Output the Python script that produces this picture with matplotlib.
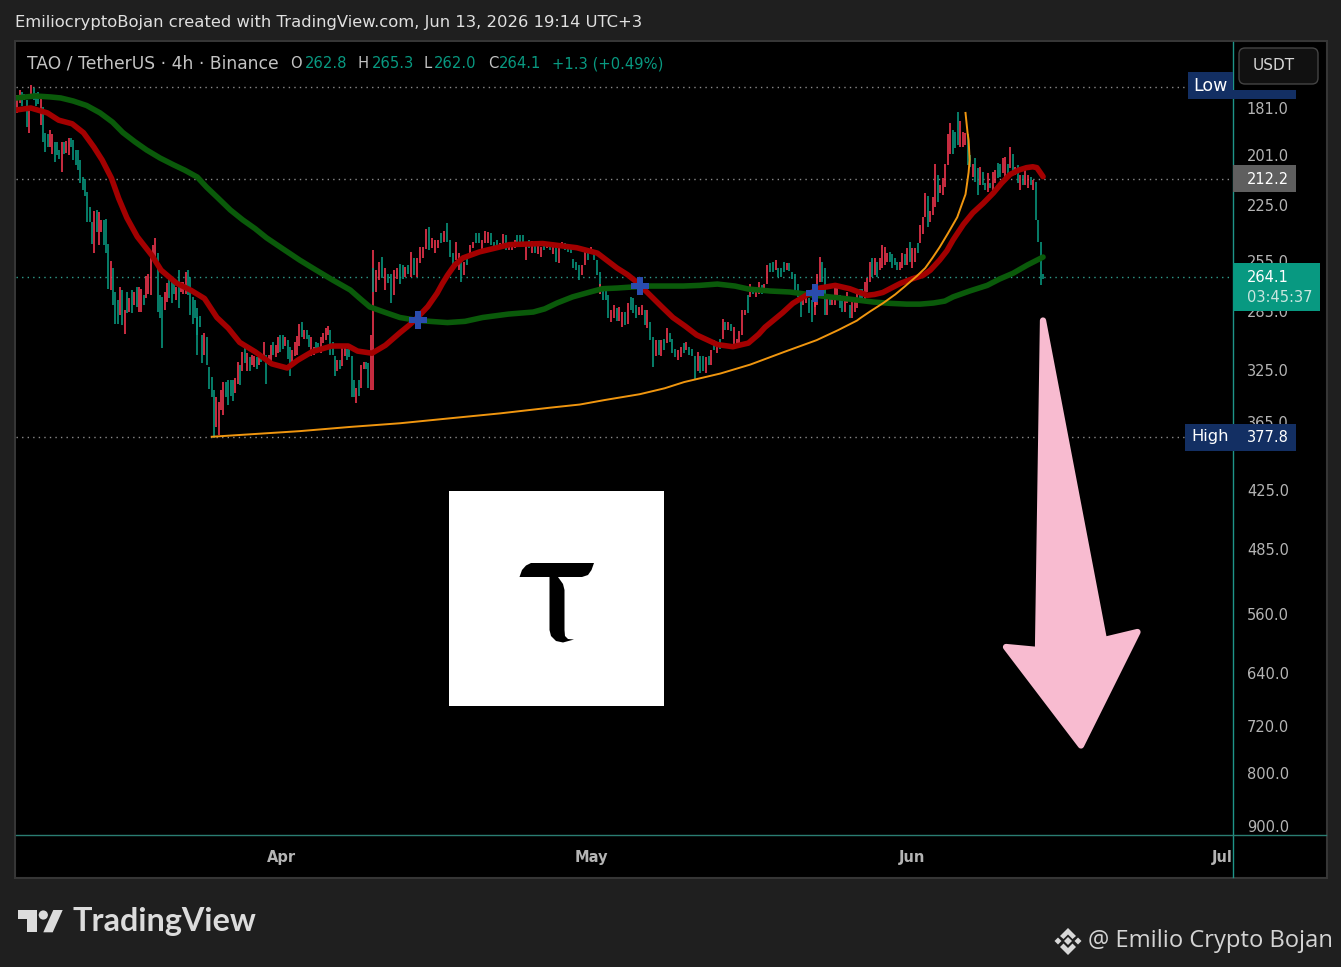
import numpy as np
import matplotlib
matplotlib.use("Agg")
import matplotlib.pyplot as plt
from matplotlib.patches import Rectangle, FancyBboxPatch, Polygon, Circle

# time axis is in days since Apr 1
month_days = [0, 30, 61, 91]
month_labels = ["Apr", "May", "Jun", "Jul"]
price_ticks = [181, 201, 225, 255, 285, 325, 365, 425, 485, 560, 640, 720, 800, 900]

low_price = 172.7
high_price = 377.8
prev_price = 212.2
last_price = 264.1

# candles, one block per stretch of the chart
span_a = (-25.5, -8.1)
lows_a = [176, 174, 174.8, 175.6, 178, 180, 172, 173, 175, 174.5, 177, 180.5, 191.5, 192, 190, 192, 195.5, 195.5, 199, 195.5,
          195.5, 195, 193.5, 193.5, 194.5, 199, 199, 203.5, 211, 212, 218.5, 226, 233.5, 228, 227.5, 228.5, 232.5, 232.5, 232, 245.5,
          255, 259, 273, 278, 270, 272, 284, 273, 276.5, 272, 273, 270, 270, 271, 275, 263.5, 262, 251, 246, 242,
          250, 275, 276, 273, 267.5, 263, 267, 267, 270, 260, 267, 267, 261, 260, 264, 276, 278, 289]
highs_a = [183, 179, 180, 178, 189, 191.5, 177, 178, 180, 179.5, 188, 195.5, 199.5, 197.5, 197.5, 200.5, 204, 201, 203, 209,
           200.5, 200, 201, 197.5, 203.5, 205.5, 208, 214, 217.5, 220.5, 233.5, 233.5, 245, 250, 239, 246, 239, 246, 250, 271,
           271.5, 281, 293.5, 293, 287.5, 294, 300, 286, 285.5, 286, 281, 282.5, 285.5, 285.5, 281, 276.5, 274, 275, 252, 253,
           285.5, 289.5, 309.5, 284, 279, 276.5, 279.5, 274, 278, 283, 273, 274, 274, 275, 287.5, 293, 289.5, 300.5]
dirs_a = "rrtttrrttt" "rtttrrtttr" "trrttttttt" "tttrtrrttt" "rtttrtrtrt" "rtrrtrrrrr" "tttrrtttrt" "rrrttttt"

span_b = (-8.1, 8.9)
lows_b = [283, 288, 300.5, 299, 302, 323, 330, 340, 345, 349, 340, 334, 334, 332, 332, 332, 331, 319, 321, 312,
          309, 313, 316, 314, 315, 316, 312, 314, 305, 314, 314, 307, 305, 307, 302, 300.5, 300.5, 302, 304, 309,
          311, 305, 301, 293, 292, 297, 297, 300.5, 302, 309, 305, 306, 302, 299, 296, 294.5, 297, 305, 315, 318,
          318, 309, 308, 310, 307, 315, 332, 338, 332, 321, 319, 319, 320, 300.5, 248.5]
highs_b = [314, 295, 320, 314, 321, 339, 345, 378, 369, 376, 355, 359, 345, 351, 344, 348, 342, 335, 336, 326,
           320, 326, 326, 321, 323, 324, 321, 319, 318, 335, 321, 321, 314, 316, 313, 312, 310, 308, 317, 329,
           320, 315, 314, 308, 302, 303, 303, 309, 315, 314, 313, 312, 313, 306, 304, 300.5, 314, 314, 329, 326,
           324, 322, 315, 318, 316, 345, 345, 350, 344, 338, 324, 324, 338, 340, 340]
dirs_b = "tttrttttrr" "rrttttrrtr" "trtrrtrtrt" "rrtrrttrtt" "rrrrtrttrr" "ttrrrrtttr" "trrttttrtr" "rttrr"

span_c = (8.9, 30.85)
lows_c = [259, 260, 255.5, 252.5, 259, 262, 262, 260, 259, 256.5, 257, 258, 257, 249.5, 253, 253, 247, 247, 237, 236,
          242, 243, 243, 239.5, 238, 234, 243, 250, 244, 250, 252.5, 255.5, 251, 246, 244, 239.5, 239.5, 243, 238, 238.5,
          239.5, 244, 243, 244.5, 240, 240.5, 244.5, 244, 243, 240.5, 240.5, 240.5, 244.5, 243, 243.5, 246, 246, 247, 244.5, 244.5,
          245, 247, 247, 247, 244, 244.5, 246, 247.5, 253.5, 255.5, 257, 257, 247.5, 248.5, 247, 248.5, 254, 261]
highs_c = [273, 273, 266, 264.5, 272, 267.5, 280, 275, 265, 268, 265, 264, 262, 264, 263, 264, 256, 253, 248, 248.5,
           247.5, 250, 247.5, 244.5, 244, 244, 252.5, 258, 254, 260, 267, 263, 257, 252.5, 247.5, 244.5, 244.5, 250, 244.5, 244.5,
           246, 249, 247.5, 247.5, 246, 248.5, 248.5, 248.5, 247.5, 244.5, 244.5, 246, 254, 247.5, 250, 250, 251, 252.5, 248.5, 247.5,
           248.5, 251, 255.5, 256, 247.5, 248.5, 249.5, 250, 259, 260, 266, 263, 257, 254, 251, 254, 263, 274]
dirs_c = "trrtrttrrt" "trtrtrrrrt" "rrrtrtttrr" "trtrrttrrr" "tttrrtrrrt" "ttrtrtrrtr" "trtrrttttt" "trrtrttt"

span_d = (30.85, 51.6)
lows_d = [268, 272, 272, 275, 284, 281, 283, 282.5, 285.5, 285.5, 279.5, 276, 276.5, 281, 282.5, 281, 284, 284, 292, 302,
          304, 304, 304, 303, 296, 299, 303, 310, 311, 309, 306, 305, 309, 310, 315, 312, 315, 315, 316, 315,
          311, 304, 307, 303, 290, 292, 292, 293, 295, 303, 298, 284, 284, 275, 268, 270, 273, 267, 269, 268,
          257, 256, 255.5, 254, 259, 259, 255.5, 256, 256, 261, 262, 268, 276, 274, 276, 276.5, 278, 273]
highs_d = [274, 278, 278, 289.5, 292, 289.5, 291, 291, 295, 294, 293, 284, 286, 289.5, 287.5, 287.5, 294, 296, 304, 323,
           315, 314, 315, 311, 306, 305, 313, 316, 318, 316, 313, 311, 314, 315, 332, 326, 327, 326, 327, 321,
           321, 311, 313, 310, 303, 297, 297, 298, 307, 309, 307, 300.5, 287.5, 286, 276, 274, 276, 274, 274, 271,
           268, 261, 261, 260, 264, 264, 261, 260, 260.5, 265, 274, 276, 289, 281, 280, 286, 292, 282.5]
dirs_d = "rtttrrtrrt" "rtttrrtrtt" "rtrtrtttrr" "trtttrttrt" "rtrtrtrtrr" "rrrtrtrrtr" "rttrtttrtt" "tttrrttr"

span_e = (51.6, 73.7)
lows_e = [271, 262, 252.5, 255.5, 259, 275, 276, 275, 270, 268, 275, 276, 276, 273, 281, 278, 278, 274.5, 271, 271,
          267, 264.5, 255.5, 253, 253, 255.5, 253, 246, 247, 250, 249.5, 251, 253, 255.5, 255.5, 250, 251, 247.5, 244, 247.5,
          247.5, 244.5, 235, 231, 219, 220.5, 228, 221, 205, 210, 215, 211.5, 205, 192, 187, 190, 190.8, 182.5, 186.5, 190.8,
          191.3, 192, 201, 205, 202.5, 207, 206.5, 209, 214, 209.5, 214, 209, 208, 204.5, 205, 202.5, 202, 205, 197.5, 200.5,
          206.5, 205.5, 210, 210, 208, 210, 211, 212.5, 213.5, 232.5, 244, 262]
highs_e = [287.5, 281, 267, 267, 287.5, 287.5, 281, 281, 281, 276, 283, 285.5, 285.5, 279.5, 289.5, 289.5, 285.5, 283, 279.5, 280,
           279.5, 273, 267, 264, 263, 264, 260, 259, 257, 255.5, 255.5, 259, 257, 260, 260, 259, 257, 257, 255.5, 259,
           255.5, 250, 244.5, 240, 231, 236, 233.5, 230, 226, 223.5, 219, 220, 216, 205.5, 200.5, 200.5, 198, 196.5, 197.5, 197.5,
           196.5, 205.5, 206.5, 211, 213.5, 220, 215, 215, 217.5, 218.5, 216.5, 217.5, 214, 211.5, 211, 209.5, 213.5, 210, 207, 209.5,
           210, 214, 217.5, 215, 215, 216.5, 215, 217.5, 232.5, 244, 269, 265]
dirs_e = "rrrttrtrrr" "ttrrtrrrtt" "rrrtrtrrrr" "ttttrrtrtr" "rtrrrtrrrt" "rrrrrtttrr" "rttrttrttr" "trrttrrtrt" "rtrtrrtrtttt"

# moving averages
red_days = [-25.6, -24.2, -22.6, -21.5, -20.2, -19.1, -18.1, -17.3, -16.4, -15.7, -14.9, -13.9, -12.5, -11.6, -10.1, -8.7, -7.4, -6.2, -5.1, -4,
            -2.5, -0.9, 0.6, 1.6, 3, 4.9, 6.5, 7.4, 8.8, 10.1, 11.5, 12.4, 13.2, 14.2, 15.1, 15.6, 16.1, 16.8, 17.6, 19.2, 22.1, 25.3, 28.6, 30.6,
            32.5, 33.5, 34.4, 35.7, 36.8, 37.9, 39.1, 40.2, 42.2, 43.7, 45.2, 46.2, 46.8, 48.5, 49.5, 50.8, 52.1, 53.6, 55, 56.7, 57.4, 58.2, 59.9, 61, 62.1, 62.8, 63.7, 64.4, 65, 66, 66.9,
            67.9, 68.9, 69.7, 70.5, 71.3, 72.1, 72.7, 73.1, 73.7]
red_prices = [181.8, 181, 183, 186, 187.5, 191.3, 197.5, 203.3, 211.7, 221.5, 231.4, 241.3, 251.5, 260, 267.7, 272, 277, 289, 296, 305.5,
              312, 320.5, 323.5, 318, 312, 308, 308, 311.5, 313, 307.5, 299, 294, 289, 282, 273.7, 268, 263, 257, 253, 249.6, 245.6, 245, 247.3, 250.3,
              258.8, 262.6, 267, 275, 282, 289, 294.7, 300.5, 307, 308.5, 306, 300, 295.4, 286, 280, 275, 270.6, 269, 271, 275, 274.5, 273.3, 267.8, 265.2, 263, 260, 254.2, 249, 243, 234.7, 228.8,
              224, 218.8, 214, 210, 208, 206.8, 206.4, 206.8, 211]
green_days = [-25.6, -23.8, -22.3, -21.3, -20.1, -18.8, -17.5, -16.3, -15.3, -14.1, -13, -11.7, -10.4, -9.3, -8.1, -7.2, -6.2, -4.9, -3.7, -2.5, -1.4, 0.2, 1.8, 3.4, 5, 6.7, 7.6, 8.6, 10.1, 11.5, 13, 14.4, 16.1, 17.8, 19.5, 22, 24.4, 25.5,
              26.7, 28.2, 29.9, 31.1, 32.5, 33.9, 35.7, 38.9, 40.5, 42.2, 43.9, 45.2, 47.3, 49.2, 51.6, 54.1, 57.3, 58.9, 60.5, 61.8, 63.1, 64.2, 65, 66.6, 68.3, 69.5, 70.8, 72.2, 73.7]
green_prices = [177, 176.2, 176.6, 177, 178.2, 180, 183, 186.8, 191.2, 195.3, 198.8, 202.4, 205.5, 208, 211.2, 216, 220.8, 227.3, 232.4, 237, 241.9, 248, 254.2, 260, 265.8, 271.8, 276.8, 282.3, 285.8, 289, 290.7, 291.5, 292.3, 291.5, 289, 286.8, 285.5, 283.5,
                279.8, 276, 273, 271, 270.6, 270, 269.4, 269.4, 269, 268.2, 269.4, 271.2, 272.4, 273, 275, 276.7, 279.2, 280, 280.5, 280.5, 279.8, 278.6, 276, 272.4, 269, 265.2, 261.8, 257, 252.5]

# drawn curve under the lows
curve_days = [-6.7, 1.8, 6.7, 11.5, 16.3, 21.2, 26, 28.9, 31.3, 34.7, 37.1, 39, 42.5, 45.4, 48.7, 51.8, 53.9, 55.7, 56, 57, 58.2, 59.4, 60.3, 61.5, 62.3, 63, 63.7, 64.5, 64.9, 65.4, 65.9, 66.2, 66.3, 66.5, 66.6, 66.5, 66.4, 66.2]
curve_prices = [377.2, 372.5, 369, 366, 362, 358, 353.5, 351, 347.5, 343, 338.5, 333.8, 327.5, 321, 312, 304, 297.2, 291, 289.5, 285, 280, 274.5, 269.8, 263.4, 258.8, 253, 247, 239.5, 235.7, 231, 223.7, 219.5, 216, 209, 203.3, 194.5, 191.4, 183]

cross_days = [13.25, 34.7, 51.6]
cross_prices = [290.5, 269.5, 273.8]

TEAL = "#089981"
RED = "#f7374f"
NAVY = "#132f63"
GREY = "#b4b4b4"
W, H = 1341, 967


def rect(x0, y0, x1, y1, **kw):
    return Rectangle((x0, y0), x1 - x0, y1 - y0, **kw)


fig = plt.figure(figsize=(W / 100, H / 100), dpi=100, facecolor="#1f1f1f")
plt.rcParams["font.family"] = "DejaVu Sans"

# background panel
bg = fig.add_axes([0, 0, 1, 1], zorder=0)
bg.set_xlim(0, W)
bg.set_ylim(H, 0)
bg.axis("off")
bg.add_patch(rect(15, 41, 1327, 878, facecolor="black", edgecolor="#363636", lw=1.5))

# main chart
ax = fig.add_axes([16 / W, 1 - 835 / H, (1233 - 16) / W, (835 - 42) / H], zorder=1)
ax.set_facecolor("black")
ax.set_yscale("log")
ax.set_xlim(-25.63, 92.07)
ax.set_ylim(918, 156.2)
for s in ax.spines.values():
    s.set_visible(False)

ax.yaxis.tick_right()
ax.set_yticks(price_ticks)
ax.set_yticklabels([f"{p:.1f}" for p in price_ticks], color=GREY, fontsize=10.5, ha="left")
ax.minorticks_off()
ax.tick_params(axis="y", length=0, pad=10)
ax.set_xticks(month_days)
ax.set_xticklabels(month_labels, color=GREY, fontsize=10.5, fontweight="bold")
ax.tick_params(axis="x", length=0, pad=10.5)

for p, c in [(low_price, "#8a8a8a"), (prev_price, "#8a8a8a"), (high_price, "#8a8a8a"), (last_price, "#2f9e8c")]:
    ax.axhline(p, color=c, lw=1, ls=(0, (1, 3)), zorder=1)

for span, lows, highs, dirs in [(span_a, lows_a, highs_a, dirs_a), (span_b, lows_b, highs_b, dirs_b),
                                (span_c, lows_c, highs_c, dirs_c), (span_d, lows_d, highs_d, dirs_d),
                                (span_e, lows_e, highs_e, dirs_e)]:
    days = np.linspace(span[0], span[1], len(lows))
    colors = [RED if d == "r" else TEAL for d in dirs]
    ax.vlines(days, lows, highs, colors=colors, lw=1.15, zorder=3)

ax.plot(green_days, green_prices, color="#0a5a0a", lw=4, solid_capstyle="round", solid_joinstyle="round", zorder=4)
ax.plot(red_days, red_prices, color="#a30000", lw=4, solid_capstyle="round", solid_joinstyle="round", zorder=5)
ax.plot(curve_days, curve_prices, color="#f0960f", lw=1.4, solid_joinstyle="round", zorder=6)
ax.plot(cross_days, cross_prices, ls="none", marker="P", ms=13, mew=0, color="#2a4cae", zorder=7)

# overlay in pixel space for the TradingView chrome
ov = fig.add_axes([0, 0, 1, 1], zorder=2)
ov.set_xlim(0, W)
ov.set_ylim(H, 0)
ov.axis("off")
ov.patch.set_alpha(0)

ov.plot([1233, 1233], [42, 877], color="#1e9488", lw=1)
ov.plot([16, 1326], [835, 835], color="#2a7d72", lw=1)

ov.text(15, 23, "EmiliocryptoBojan created with TradingView.com, Jun 13, 2026 19:14 UTC+3",
        color="#e0e0e0", fontsize=11.75, va="center")

ov.text(27, 64, "TAO / TetherUS · 4h · Binance", color="#c4c4c4", fontsize=12.3, va="center")
for x, s, c in [(290, "O", "#c4c4c4"), (305, "262.8", TEAL),
                (358, "H", "#c4c4c4"), (372, "265.3", TEAL), (424, "L", "#c4c4c4"), (434, "262.0", TEAL),
                (488, "C", "#c4c4c4"), (499, "264.1", TEAL), (552, "+1.3 (+0.49%)", TEAL)]:
    ov.text(x, 64, s, color=c, fontsize=10.6, va="center")

# price badges
ov.add_patch(rect(1188, 72, 1233, 99, facecolor=NAVY, zorder=3))
ov.add_patch(rect(1233, 90, 1296, 99, facecolor=NAVY, zorder=3))
ov.text(1193, 86, "Low", color="white", fontsize=12.5, va="center", zorder=4)
ov.add_patch(FancyBboxPatch((1239, 48), 79, 36, boxstyle="round,pad=0,rounding_size=6",
                            facecolor="#111111", edgecolor="#444444", lw=1, zorder=5))
ov.text(1274, 66, "USDT", color="#d6d6d6", fontsize=11, ha="center", va="center", zorder=6)

ov.add_patch(rect(1233, 165, 1296, 192, facecolor="#5f5f5f", zorder=3))
ov.text(1247, 179, f"{prev_price:.1f}", color="white", fontsize=10.5, va="center", zorder=4)

ov.add_patch(rect(1233, 263, 1320, 311, facecolor=TEAL, zorder=3))
ov.text(1247, 277, f"{last_price:.1f}", color="white", fontsize=10.5, va="center", zorder=4)
ov.text(1247, 297, "03:45:37", color="#c8e6df", fontsize=10.5, va="center", zorder=4)

ov.add_patch(rect(1185, 424, 1296, 451, facecolor=NAVY, zorder=3))
ov.text(1191, 437, "High", color="white", fontsize=11.8, va="center", zorder=4)
ov.text(1247, 437, f"{high_price:.1f}", color="white", fontsize=10.5, va="center", zorder=4)

# pasted logo
ov.add_patch(rect(449, 491, 664, 706, facecolor="white", zorder=3))
ov.add_patch(Polygon([(519.5, 577), (522, 570), (526, 565.5), (531, 563), (594, 563), (591.5, 570), (588, 575), (582, 577)],
                     facecolor="black", zorder=4))
ov.add_patch(Polygon([(549.5, 576), (549.5, 630), (551, 636), (556, 641), (563, 642.5), (574, 639.5), (568, 639),
                      (565, 636), (564.5, 630), (564.5, 590), (563, 584), (558, 577)], facecolor="black", zorder=4))

# pink arrow
ov.add_patch(Polygon([(1043, 320.5), (1104, 640), (1137.5, 632), (1081, 745.5), (1006, 647), (1038, 650)],
                     facecolor="#f8bbd0", edgecolor="#f8bbd0", lw=4.5, joinstyle="round", zorder=6))

# TradingView watermark
ov.add_patch(Polygon([(18, 910), (36.7, 910), (36.7, 932.3), (26.7, 932.3), (26.7, 919), (18, 919)], facecolor="#dcdcdc"))
ov.add_patch(Circle((43.3, 915), 4.6, facecolor="#dcdcdc"))
ov.add_patch(Polygon([(53.3, 910), (62.7, 910), (52.7, 932.3), (43.3, 932.3)], facecolor="#dcdcdc"))
ov.text(73, 921, "TradingView", color="#dcdcdc", fontsize=23.3, family="Lato", weight="bold", va="center")

# signature
ov.add_patch(Polygon([(1068, 928), (1076, 936), (1072.5, 939), (1068, 934.5), (1063.5, 939), (1060, 936)], facecolor="#d8d8d8"))
ov.add_patch(Polygon([(1068, 955), (1076, 947), (1072.5, 943.5), (1068, 948), (1063.5, 943.5), (1060, 947)], facecolor="#d8d8d8"))
for cx, r in [(1058, 3.5), (1068, 4), (1078, 3.5)]:
    ov.add_patch(Polygon([(cx, 941 - r), (cx + r, 941), (cx, 941 + r), (cx - r, 941)], facecolor="#d8d8d8"))
ov.text(1088, 941, "@ Emilio Crypto Bojan", color="#d4d4d4", fontsize=17.1, family="Open Sans", va="center")

fig.savefig("out.png", dpi=100, facecolor=fig.get_facecolor())
